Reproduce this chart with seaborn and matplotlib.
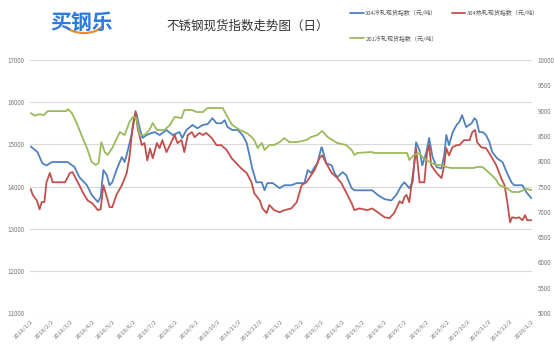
import matplotlib
matplotlib.use("Agg")
import matplotlib.pyplot as plt
import matplotlib.dates as mdates
from matplotlib.patches import Arc
import pandas as pd
import seaborn as sns

sns.set_style("white")
plt.rcParams['font.family'] = ['Noto Sans CJK SC', 'DejaVu Sans']

title = "不锈钢现货指数走势图（日）"
logo = "买钢乐"
label_cr304 = "304冷轧现货指数（元/吨）"
label_hr304 = "304热轧现货指数（元/吨）"
label_cr201 = "201冷轧现货指数（元/吨）"

cr304_dates = ["2018-01-02","2018-01-12","2018-01-19","2018-01-25","2018-02-02","2018-02-25","2018-03-07","2018-03-14",
    "2018-03-25","2018-04-01","2018-04-10","2018-04-14","2018-04-18","2018-04-23","2018-04-27","2018-05-01","2018-05-07",
    "2018-05-15","2018-05-19","2018-05-23","2018-05-29","2018-06-03","2018-06-05","2018-06-10","2018-06-14","2018-06-20",
    "2018-06-27","2018-07-02","2018-07-09","2018-07-19","2018-07-28","2018-08-07","2018-08-11","2018-08-17","2018-08-26",
    "2018-09-02","2018-09-10","2018-09-17","2018-09-24","2018-09-30","2018-10-07","2018-10-12","2018-10-16","2018-10-23",
    "2018-10-31","2018-11-07","2018-11-13","2018-11-17","2018-11-21","2018-11-27","2018-12-05","2018-12-09","2018-12-13",
    "2018-12-21","2018-12-31","2019-01-07","2019-01-17","2019-01-25","2019-02-05","2019-02-10","2019-02-15","2019-02-20",
    "2019-02-24","2019-03-02","2019-03-03","2019-03-09","2019-03-17","2019-03-21","2019-03-25","2019-04-02","2019-04-07",
    "2019-04-15","2019-04-19","2019-05-01","2019-05-15","2019-05-23","2019-06-02","2019-06-12","2019-06-19","2019-06-27",
    "2019-07-01","2019-07-08","2019-07-13","2019-07-18","2019-07-23","2019-07-27","2019-08-02","2019-08-06","2019-08-11",
    "2019-08-17","2019-08-24","2019-08-28","2019-08-31","2019-09-04","2019-09-09","2019-09-15","2019-09-19","2019-09-23",
    "2019-09-29","2019-10-07","2019-10-11","2019-10-14","2019-10-18","2019-10-23","2019-10-28","2019-11-02","2019-11-06",
    "2019-11-13","2019-11-21","2019-11-27","2019-12-04","2019-12-08","2019-12-15","2019-12-20","2019-12-26","2020-01-02"]
cr304_values = [14950,14815,14550,14500,14580,14580,14460,14220,
    14030,13800,13630,13750,14390,14270,14030,14100,14390,
    14700,14580,14815,15220,15650,15740,15380,15150,15220,
    15270,15290,15220,15340,15220,15290,15150,15340,15460,
    15380,15460,15480,15620,15500,15500,15570,15410,15340,
    15340,15220,15030,14740,14430,14100,14100,13910,14080,
    14080,13960,14030,14030,14080,14080,14390,14320,14460,
    14550,14930,14910,14550,14500,14320,14220,14340,14270,
    13960,13910,13910,13910,13800,13700,13670,13800,14030,
    14100,13960,14100,15050,14860,14500,14815,15150,14700,
    14460,14430,14740,15220,14980,15270,15460,15530,15690,
    15410,15500,15620,15570,15290,15290,15220,15050,14815,
    14670,14580,14340,14100,14030,14030,14030,13860,13720]

hr304_dates = ["2018-01-02","2018-01-05","2018-01-11","2018-01-15","2018-01-18","2018-01-22","2018-01-25","2018-01-30",
    "2018-02-02","2018-02-03","2018-02-21","2018-02-25","2018-02-28","2018-03-04","2018-03-10","2018-03-14","2018-03-19",
    "2018-03-26","2018-04-02","2018-04-10","2018-04-14","2018-04-18","2018-04-23","2018-04-27","2018-05-01","2018-05-07",
    "2018-05-15","2018-05-22","2018-05-26","2018-05-31","2018-06-04","2018-06-07","2018-06-13","2018-06-17","2018-06-21",
    "2018-06-25","2018-06-29","2018-07-05","2018-07-09","2018-07-13","2018-07-19","2018-07-26","2018-07-31","2018-08-04",
    "2018-08-10","2018-08-14","2018-08-19","2018-08-25","2018-08-29","2018-09-05","2018-09-10","2018-09-15","2018-09-23",
    "2018-09-30","2018-10-07","2018-10-15","2018-10-22","2018-10-29","2018-11-05","2018-11-13","2018-11-20","2018-11-24",
    "2018-12-02","2018-12-06","2018-12-12","2018-12-16","2018-12-23","2018-12-31","2019-01-07","2019-01-17","2019-01-25",
    "2019-02-01","2019-02-08","2019-02-13","2019-02-20","2019-02-27","2019-03-03","2019-03-09","2019-03-17","2019-03-24",
    "2019-03-31","2019-04-07","2019-04-15","2019-04-19","2019-04-26","2019-05-08","2019-05-15","2019-05-23","2019-06-02",
    "2019-06-09","2019-06-16","2019-06-24","2019-06-28","2019-07-01","2019-07-04","2019-07-08","2019-07-15","2019-07-18",
    "2019-07-23","2019-07-30","2019-08-03","2019-08-06","2019-08-09","2019-08-17","2019-08-24","2019-08-28","2019-08-31",
    "2019-09-04","2019-09-09","2019-09-15","2019-09-19","2019-09-26","2019-10-04","2019-10-08","2019-10-12","2019-10-15",
    "2019-10-21","2019-10-28","2019-11-05","2019-11-12","2019-11-19","2019-11-24","2019-11-28","2019-12-02","2019-12-05",
    "2019-12-11","2019-12-15","2019-12-20","2019-12-24","2019-12-27","2020-01-02"]
hr304_values = [13940,13800,13670,13460,13630,13630,14100,14320,
    14150,14100,14100,14220,14320,14340,14150,14030,13860,
    13670,13600,13440,13460,14030,13750,13510,13510,13800,
    14030,14320,14700,15460,15790,15380,14980,15030,14620,
    14900,14670,15030,14910,15100,14815,15050,15220,15030,
    15100,14815,15220,15290,15170,15270,15220,15270,15150,
    14980,14980,14860,14670,14550,14430,14320,14100,13840,
    13670,13480,13370,13560,13440,13390,13440,13480,13630,
    14030,14100,14220,14390,14670,14740,14550,14320,14220,
    14080,13860,13600,13440,13480,13440,13480,13390,13270,
    13250,13370,13650,13600,13750,13800,13630,14500,14910,
    14100,14100,14815,14980,14500,14320,14200,14500,14910,
    14740,14930,14980,14980,15100,15100,15290,15340,15050,
    14930,14910,14700,14500,14200,14030,13630,13150,13270,
    13250,13270,13200,13320,13200,13200]

cr201_dates = ["2018-01-02","2018-01-08","2018-01-15","2018-01-21","2018-01-27","2018-02-23","2018-02-25","2018-03-03",
    "2018-03-10","2018-03-17","2018-03-25","2018-04-01","2018-04-07","2018-04-11","2018-04-15","2018-04-20","2018-04-24",
    "2018-05-01","2018-05-12","2018-05-19","2018-05-26","2018-05-31","2018-06-05","2018-06-10","2018-06-17","2018-06-24",
    "2018-06-29","2018-07-05","2018-07-16","2018-07-24","2018-07-31","2018-08-10","2018-08-14","2018-08-25","2018-09-01",
    "2018-09-10","2018-09-17","2018-10-09","2018-10-16","2018-10-23","2018-11-03","2018-11-13","2018-11-20","2018-11-24",
    "2018-11-29","2018-12-05","2018-12-09","2018-12-16","2018-12-23","2018-12-31","2019-01-07","2019-01-14","2019-01-26",
    "2019-02-08","2019-02-15","2019-02-24","2019-03-03","2019-03-11","2019-03-18","2019-03-25","2019-04-07","2019-04-15",
    "2019-04-19","2019-04-23","2019-05-14","2019-05-18","2019-07-05","2019-07-08","2019-07-15","2019-07-23","2019-07-27",
    "2019-08-02","2019-08-09","2019-08-17","2019-08-24","2019-08-31","2019-09-07","2019-10-11","2019-10-14","2019-10-23",
    "2019-10-28","2019-11-05","2019-11-12","2019-11-16","2019-11-27","2019-12-05","2019-12-15","2019-12-26","2020-01-02"]
cr201_values = [8950,8900,8930,8910,8990,8990,9030,8953,
    8755,8518,8261,7984,7925,7964,8379,8182,8123,
    8261,8577,8518,8775,8874,8854,8518,8518,8617,
    8755,8617,8617,8715,8874,8854,9012,9012,8972,
    8972,9051,9051,8874,8715,8617,8557,8478,8419,
    8261,8360,8221,8320,8320,8379,8458,8379,8379,
    8419,8478,8518,8597,8478,8419,8360,8320,8221,
    8123,8162,8182,8162,8162,8024,8123,8162,8083,
    8024,7964,7925,7925,7885,7866,7866,7885,7885,
    7826,7727,7628,7530,7470,7391,7391,7450,7430]

tick_dates = ["2018-01-02","2018-02-02","2018-03-02","2018-04-02","2018-05-02","2018-06-02","2018-07-02","2018-08-02",
    "2018-09-02","2018-10-02","2018-11-02","2018-12-02","2019-01-02","2019-02-02","2019-03-02","2019-04-02","2019-05-02",
    "2019-06-02","2019-07-02","2019-08-02","2019-09-02","2019-10-02","2019-11-02","2019-12-02","2020-01-02"]
left_ticks = [11000, 12000, 13000, 14000, 15000, 16000, 17000]
right_ticks = [5000, 5500, 6000, 6500, 7000, 7500, 8000, 8500, 9000, 9500, 10000]

c_blue, c_red, c_green = "#4F81BD", "#C0504D", "#9BBB59"

df_cr304 = pd.DataFrame({"date": pd.to_datetime(cr304_dates), "value": cr304_values})
df_hr304 = pd.DataFrame({"date": pd.to_datetime(hr304_dates), "value": hr304_values})
df_cr201 = pd.DataFrame({"date": pd.to_datetime(cr201_dates), "value": cr201_values})

fig = plt.figure(figsize=(5.54, 3.51), dpi=100)
ax = fig.add_axes([30/554, 1-313/351, (532-30)/554, (313-60)/351])
ax2 = ax.twinx()

sns.lineplot(data=df_cr304, x="date", y="value", ax=ax, color=c_blue, lw=1.3, label=label_cr304, legend=False)
sns.lineplot(data=df_hr304, x="date", y="value", ax=ax, color=c_red, lw=1.3, label=label_hr304, legend=False)
sns.lineplot(data=df_cr201, x="date", y="value", ax=ax2, color=c_green, lw=1.3, label=label_cr201, legend=False)

ax.set_ylim(11000, 17000)
ax2.set_ylim(5000, 10000)
ax.set_yticks(left_ticks)
ax2.set_yticks(right_ticks)
ax.set_xlim(pd.Timestamp("2018-01-01"), pd.Timestamp("2020-01-03"))
ticks = pd.to_datetime(tick_dates)
ax.set_xticks(ticks)
ax.set_xticklabels([f"{d.year}/{d.month}/{d.day}" for d in ticks], rotation=45, ha="right",
                   rotation_mode="anchor", fontsize=4.3, color="#777777")
ax.tick_params(axis="x", length=2, width=0.6, color="#d9d9d9", pad=2)
ax.tick_params(axis="y", length=0, labelsize=4.5, labelcolor="#777777", pad=4)
ax2.tick_params(axis="y", length=0, labelsize=4.5, labelcolor="#777777", pad=4)
ax.set_xlabel("")
ax.set_ylabel("")
ax2.set_ylabel("")
ax.grid(axis="y", color="#d9d9d9", lw=0.8)
ax.grid(axis="x", visible=False)
ax2.grid(False)
for a in (ax, ax2):
    for s in a.spines.values():
        s.set_visible(False)

h1, l1 = ax.get_legend_handles_labels()
h2, l2 = ax2.get_legend_handles_labels()
handles = [h1[0], h2[0], h1[1]]
labels = [l1[0], l2[0], l1[1]]
fig.legend(handles, labels, loc="upper left", bbox_to_anchor=(345/554, 1-4/351), ncol=2,
           frameon=False, fontsize=4.3, handlelength=2.2, handletextpad=0.3, columnspacing=2.4,
           labelspacing=3.2, labelcolor="#555555")

fig.text(248/554, 1-26/351, title, ha="center", va="center", fontsize=9, color="#333333")
fig.text(82/554, 1-22/351, logo, ha="center", va="center", fontsize=15, color="#2E7BE0", fontweight="bold")
fig.add_artist(Arc((84/554, 1-22/351), 40/554, 22/351, theta1=200, theta2=340, color="#F08A24", lw=1.6,
                   transform=fig.transFigure))

fig.savefig("out.png", dpi=100)
